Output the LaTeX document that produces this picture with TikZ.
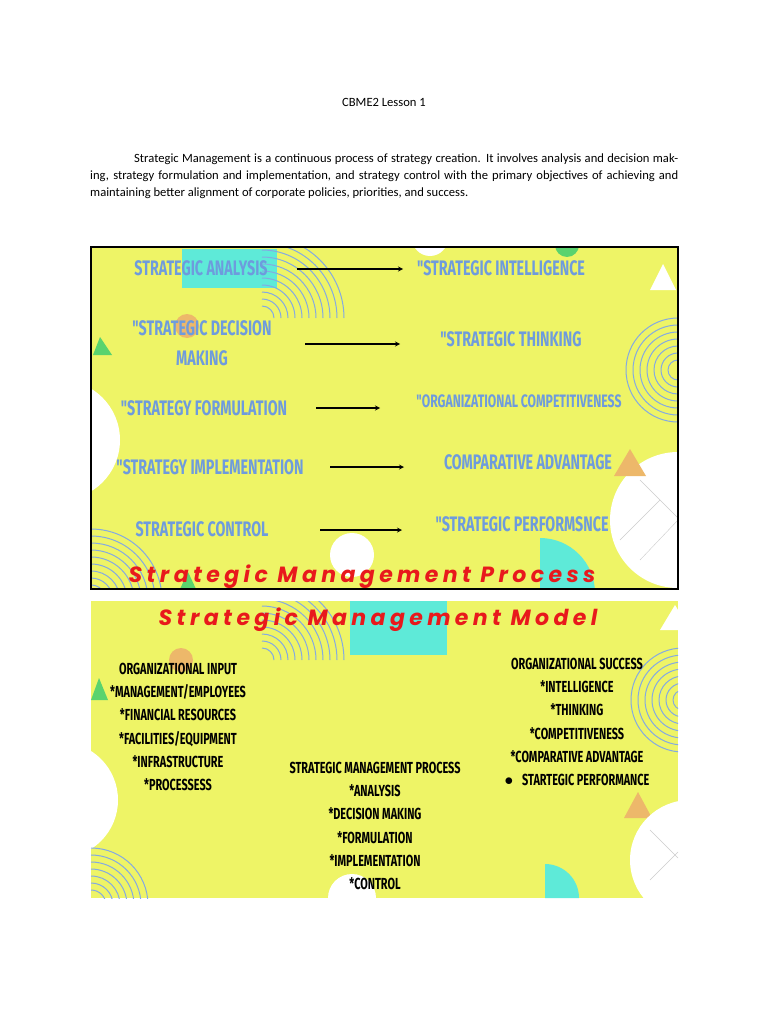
\documentclass[tikz,border=0pt]{standalone}
\usepackage{fontspec}
\usepackage{graphicx}
\setmainfont{Carlito}
\newfontfamily\condfont{Fira Sans}[FakeStretch=0.68]
\newfontfamily\redfont{Poppins}[LetterSpace=20]
\definecolor{ylw}{HTML}{EEF466}
\definecolor{blu}{HTML}{6E9BDD}
\definecolor{cyn}{HTML}{5EEAD8}
\definecolor{org}{HTML}{EDB86A}
\definecolor{grn}{HTML}{5AD36E}
\definecolor{rd}{HTML}{E8191C}
\tikzset{
  bl/.style={font=\condfont\bfseries\fontsize{21}{24}\selectfont, text=blu, inner sep=0pt, align=center},
  bk/.style={font=\condfont\bfseries\fontsize{16}{23.3}\selectfont, text=black, inner sep=0pt, align=center},
  arr/.style={-stealth, line width=1.2pt},
  rings/.style={blu!85, line width=1pt},
  ttl/.style={font=\redfont\bfseries\itshape\fontsize{22}{26}\selectfont, text=rd, inner sep=0pt}
}
\begin{document}
\begin{tikzpicture}[x=1pt,y=-1pt]
\useasboundingbox (0,0) rectangle (768,1024);
\fill[white] (0,0) rectangle (768,1024);
\node[font=\fontsize{12.6}{17}\selectfont] (hd) at (384,102) {CBME2 Lesson 1};
\node[font=\fontsize{12.6}{17}\selectfont, text width=588pt, align=justify, inner sep=0pt, anchor=north west] (par) at (90,154)
{\hspace*{44pt}Strategic Management is a continuous process of strategy creation. It involves analysis and decision making, strategy formulation and implementation, and strategy control with the primary objectives of achieving and maintaining better alignment of corporate policies, priorities, and success.};
% ---------- top panel
\fill[ylw] (91,247) rectangle (678,589);
\begin{scope}
\clip (91,247) rectangle (678,589);
\fill[cyn] (182,249) rectangle (277,288);
\fill[white] (430,238) circle (18);
\fill[grn] (567,245) circle (12);
\foreach \r in {12,19,...,82} \draw[rings] (262,318) ++(270:\r) arc (270:360:\r);
\fill[org] (187,326) circle (12);
\fill[grn] (93,355) -- (100,337) -- (112,355) -- cycle;
\fill[white] (60,440) circle (60);
\foreach \r in {10,17,...,52} \draw[rings] (678,370) ++(90:\r) arc (90:270:\r);
\fill[white] (650,290) -- (663,264) -- (676,290) -- cycle;
\fill[white] (678,520) circle (68);
\draw[gray!40, line width=.4pt] (640,480) -- (678,518) (640,560)--(678,520) (620,540)--(660,500);
\fill[org] (614,476) -- (630,449) -- (646,476) -- cycle;
\fill[white] (352,555) circle (22);
\fill[cyn] (540,589) -- (540,538) arc (270:360:55) -- cycle;
\foreach \r in {15,22,...,75} \draw[rings] (91,600) ++(-90:\r) arc (-90:0:\r);
\fill[grn] (180,589) -- (188,572) -- (196,589) -- cycle;
\end{scope}
\draw[line width=2pt] (91,247) rectangle (678,589);
\node[bl] (l1) at (201,268) {STRATEGIC ANALYSIS};
\node[bl] (r1) at (501,268) {"STRATEGIC INTELLIGENCE};
\node[bl, font=\condfont\bfseries\fontsize{21}{30}\selectfont] (l2) at (202,343) {"STRATEGIC DECISION\\MAKING};
\node[bl] (r2) at (511,339) {"STRATEGIC THINKING};
\node[bl] (l3) at (204,408) {"STRATEGY FORMULATION};
\node[bl, font=\condfont\bfseries\fontsize{18}{22}\selectfont] (r3) at (519,401) {"ORGANIZATIONAL COMPETITIVENESS};
\node[bl] (l4) at (210,467) {"STRATEGY IMPLEMENTATION};
\node[bl] (r4) at (528,462) {COMPARATIVE ADVANTAGE};
\node[bl] (l5) at (202,529) {STRATEGIC CONTROL};
\node[bl] (r5) at (522,524) {"STRATEGIC PERFORMSNCE};
\coordinate (a1s) at (297,269); \coordinate (a1e) at (403,269);
\coordinate (a2s) at (305,344); \coordinate (a2e) at (400,344);
\coordinate (a3s) at (316,408); \coordinate (a3e) at (380,408);
\coordinate (a4s) at (330,467); \coordinate (a4e) at (404,467);
\coordinate (a5s) at (320,530); \coordinate (a5e) at (402,530);
\foreach \i in {1,...,5} \draw[arr] (a\i s) -- (a\i e);
\node[ttl] (t1) at (362,577) {Strategic Management Process};
% ---------- bottom panel
\fill[ylw] (91,601) rectangle (678,898);
\begin{scope}
\clip (91,601) rectangle (678,898);
\fill[cyn] (350,601) rectangle (447,655);
\foreach \r in {12,19,...,82} \draw[rings] (262,660) ++(270:\r) arc (270:360:\r);
\fill[org] (181,660) circle (12);
\fill[grn] (91,700) -- (99,678) -- (108,700) -- cycle;
\fill[white] (60,800) circle (58);
\fill[white] (660,630) -- (675,605) -- (690,630) -- cycle;
\foreach \r in {10,17,...,52} \draw[rings] (683,700) ++(90:\r) arc (90:270:\r);
\fill[org] (624,818) -- (638,792) -- (652,818) -- cycle;
\fill[white] (690,860) circle (60);
\draw[gray!40, line width=.4pt] (650,830) -- (678,858) (650,880)--(678,852);
\fill[white] (352,898) circle (24);
\fill[cyn] (545,898) -- (545,864) arc (270:360:34) -- cycle;
\foreach \r in {15,22,...,60} \draw[rings] (91,905) ++(-90:\r) arc (-90:0:\r);
\end{scope}
\node[ttl] (t2) at (378,620) {Strategic Management Model};
\node[bk] (lc) at (178,727) {ORGANIZATIONAL INPUT\\*MANAGEMENT/EMPLOYEES\\*FINANCIAL RESOURCES\\*FACILITIES/EQUIPMENT\\*INFRASTRUCTURE\\*PROCESSESS};
\node[bk] (cc) at (375,826) {STRATEGIC MANAGEMENT PROCESS\\*ANALYSIS\\*DECISION MAKING\\*FORMULATION\\*IMPLEMENTATION\\*CONTROL};
\node[bk] (rc) at (577,722) {ORGANIZATIONAL SUCCESS\\*INTELLIGENCE\\*THINKING\\*COMPETITIVENESS\\*COMPARATIVE ADVANTAGE\\$\bullet$\hspace{9pt}STARTEGIC PERFORMANCE};
\end{tikzpicture}
\end{document}
